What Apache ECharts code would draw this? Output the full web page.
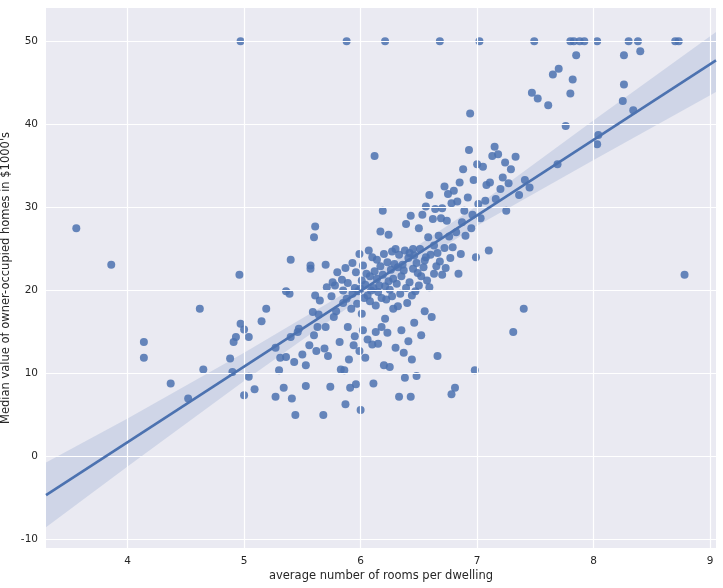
<!DOCTYPE html>
<html>
<head>
<meta charset="utf-8">
<script src="https://cdn.jsdelivr.net/npm/echarts@6/dist/echarts.min.js"></script>
<style>html,body{margin:0;padding:0;background:#fff}#chart{width:723px;height:588px}</style>
</head>
<body>
<div id="chart"></div>
<script>
// rooms per dwelling vs median value
var points = [
[3.56,27.5],[3.86,23.1],[4.14,13.8],[4.14,11.9],[4.37,8.8],[4.52,7.0],[4.62,17.8],[4.65,10.5],
[4.88,11.8],[4.90,10.2],[4.91,13.8],[4.93,14.4],[4.96,21.9],[4.97,50],[4.97,16.0],[5.00,7.4],
[5.00,15.3],[5.04,14.4],[5.04,9.6],[5.09,8.1],[5.15,16.3],[5.19,17.8],[5.27,7.2],[5.27,13.1],
[5.30,10.4],[5.31,11.9],[5.34,8.3],[5.36,12.0],[5.36,19.9],[5.39,19.6],[5.40,14.4],[5.40,23.7],
[5.41,7.0],[5.43,11.4],[5.44,5.0],[5.46,15.0],[5.47,15.4],[5.50,12.3],[5.53,11.0],[5.53,8.5],
[5.56,13.4],[5.57,23.0],[5.57,22.6],[5.59,17.4],[5.60,14.6],[5.60,26.4],[5.61,27.7],[5.61,19.4],
[5.62,12.7],[5.63,15.6],[5.64,17.1],[5.65,18.8],[5.68,5.0],[5.69,13.0],[5.70,23.1],[5.70,15.6],
[5.71,20.4],[5.72,12.1],[5.74,8.4],[5.75,19.3],[5.76,21.0],[5.77,16.8],[5.78,20.6],[5.79,17.5],
[5.80,22.2],[5.82,13.8],[5.83,10.5],[5.84,21.3],[5.85,20.0],[5.85,18.5],[5.86,10.4],[5.87,6.3],
[5.87,22.7],[5.88,50],[5.88,19.0],[5.89,15.6],[5.89,20.9],[5.90,11.7],[5.91,8.3],[5.92,17.8],
[5.93,19.6],[5.93,23.3],[5.94,13.4],[5.95,14.5],[5.95,20.3],[5.96,8.7],[5.96,22.2],[5.97,18.4],
[5.98,19.9],[5.99,24.4],[5.99,12.7],[6.00,20.2],[6.00,5.6],[6.01,21.2],[6.01,17.2],[6.02,15.2],
[6.02,23.0],[6.03,19.1],[6.04,11.9],[6.04,20.7],[6.05,22.0],[6.06,19.4],[6.06,14.1],[6.07,24.8],
[6.08,18.7],[6.08,21.7],[6.09,20.0],[6.10,13.5],[6.10,24.0],[6.11,20.3],[6.11,8.8],[6.12,36.2],
[6.12,22.3],[6.13,18.2],[6.13,15.0],[6.14,21.4],[6.14,23.7],[6.15,19.8],[6.15,13.6],[6.16,20.6],
[6.17,22.9],[6.17,27.1],[6.18,19.1],[6.18,15.6],[6.19,29.6],[6.19,21.9],[6.20,11.0],[6.20,24.4],
[6.21,50],[6.21,20.5],[6.21,16.6],[6.22,18.9],[6.23,23.4],[6.23,14.9],[6.24,21.1],[6.24,26.7],
[6.25,20.1],[6.25,10.8],[6.26,22.5],[6.27,19.3],[6.27,24.7],[6.28,17.8],[6.28,21.4],[6.29,23.2],
[6.30,13.1],[6.30,25.0],[6.31,20.8],[6.32,18.1],[6.32,22.8],[6.33,24.3],[6.33,7.2],[6.34,19.6],
[6.35,21.7],[6.35,15.2],[6.36,23.1],[6.37,22.4],[6.37,12.5],[6.38,9.5],[6.38,24.8],[6.39,20.3],
[6.39,28.0],[6.40,18.5],[6.41,23.9],[6.41,13.9],[6.42,21.0],[6.42,24.5],[6.43,29.0],[6.43,7.2],
[6.44,19.4],[6.44,11.7],[6.45,22.6],[6.45,25.0],[6.46,16.1],[6.46,24.2],[6.47,19.9],[6.48,23.3],
[6.48,9.7],[6.49,22.1],[6.50,27.5],[6.50,20.6],[6.51,25.0],[6.52,21.7],[6.52,14.6],[6.53,29.1],
[6.54,22.8],[6.55,23.6],[6.55,17.5],[6.56,24.0],[6.56,30.1],[6.57,21.2],[6.58,26.4],[6.59,20.4],
[6.59,31.5],[6.60,24.3],[6.61,16.8],[6.62,28.6],[6.63,22.0],[6.63,25.4],[6.64,29.8],[6.65,22.9],
[6.66,24.5],[6.66,12.1],[6.67,26.6],[6.68,50],[6.68,23.5],[6.69,28.7],[6.70,21.9],[6.70,29.9],
[6.72,25.1],[6.72,32.5],[6.73,22.7],[6.74,28.4],[6.75,31.6],[6.76,26.5],[6.77,23.9],[6.78,7.5],
[6.78,30.5],[6.79,25.2],[6.80,32.0],[6.81,8.3],[6.82,27.0],[6.83,30.7],[6.84,22.0],[6.85,33.0],
[6.86,24.4],[6.87,28.2],[6.88,34.6],[6.89,29.6],[6.90,26.6],[6.92,31.2],[6.93,36.9],[6.94,41.3],
[6.95,27.5],[6.96,29.1],[6.97,33.3],[6.98,10.4],[6.99,24.0],[7.00,35.2],[7.01,30.4],[7.02,50],
[7.03,28.7],[7.05,34.9],[7.07,30.8],[7.08,32.7],[7.10,24.8],[7.11,33.0],[7.13,36.2],[7.15,37.3],
[7.16,31.0],[7.18,36.4],[7.20,32.2],[7.22,33.6],[7.24,35.4],[7.25,29.6],[7.27,32.9],[7.29,34.6],
[7.31,15.0],[7.33,36.1],[7.36,31.5],[7.40,17.8],[7.41,33.3],[7.45,32.4],[7.47,43.8],[7.49,50],
[7.52,43.1],[7.61,42.3],[7.65,46.0],[7.69,35.2],[7.70,46.7],[7.76,39.8],[7.80,50],[7.80,43.7],
[7.82,45.4],[7.83,50],[7.85,48.3],[7.88,50],[7.92,50],[8.03,50],[8.03,37.6],[8.04,38.7],
[8.25,42.8],[8.26,48.3],[8.26,44.8],[8.30,50],[8.34,41.7],[8.38,50],[8.40,48.8],[8.70,50],
[8.73,50],[8.78,21.9]
];
var xTicks = [4, 5, 6, 7, 8, 9];
var yTicks = [-10, 0, 10, 20, 30, 40, 50];
var bandX = [3.3, 4, 5, 6, 7, 8, 9.05];
var bandLow = [-8.5, -1.2, 9.1, 19.0, 27.8, 35.7, 43.9];
var bandHigh = [-0.7, 4.6, 12.5, 20.8, 30.2, 40.5, 51.1];
var fitX = [3.3, 9.05];
var fitY = [-4.63, 47.70];

var chart = echarts.init(document.getElementById('chart'));
var bandPoly = bandX.map(function (x, i) { return [x, bandHigh[i]]; })
    .concat(bandX.slice().reverse().map(function (x, i) { return [x, bandLow[bandX.length - 1 - i]]; }));
var gridColor = '#fff';
chart.setOption({
    animation: false,
    backgroundColor: '#fff',
    grid: {left: 46, right: 7, top: 8, bottom: 40, backgroundColor: '#EAEAF2', show: true, borderWidth: 0,
        outerBoundsMode: 'none', containLabel: false},
    xAxis: {
        type: 'value', min: 3.3, max: 9.05,
        name: 'average number of rooms per dwelling', nameLocation: 'middle', nameGap: 22,
        nameMoveOverlap: false,
        nameTextStyle: {color: '#262626', fontFamily: 'DejaVu Sans', fontSize: 11.5},
        axisLine: {show: false}, axisTick: {show: false},
        axisLabel: {color: '#262626', fontFamily: 'DejaVu Sans', fontSize: 10.5, customValues: xTicks},
        splitLine: {show: false}
    },
    yAxis: {
        type: 'value', min: -11, max: 54,
        name: "Median value of owner-occupied homes in $1000's", nameLocation: 'middle', nameGap: 34,
        nameMoveOverlap: false,
        nameTextStyle: {color: '#262626', fontFamily: 'DejaVu Sans', fontSize: 11.5},
        axisLine: {show: false}, axisTick: {show: false},
        axisLabel: {color: '#262626', fontFamily: 'DejaVu Sans', fontSize: 10.5, customValues: yTicks},
        splitLine: {show: false}
    },
    series: [
        {type: 'scatter', data: [], silent: true,
         markLine: {silent: true, symbol: 'none', label: {show: false}, lineStyle: {color: gridColor, width: 1.2, type: 'solid'},
            data: yTicks.map(function (v) { return {yAxis: v}; }).concat(xTicks.map(function (v) { return {xAxis: v}; }))}},
        {type: 'custom', z: 3, silent: true, data: [0],
         renderItem: function (params, api) {
             return {type: 'polygon', shape: {points: bandPoly.map(function (p) { return api.coord(p); })},
                 style: {fill: 'rgba(76,114,176,0.17)'}};
         }},
        {type: 'scatter', data: points, symbolSize: 8, z: 4,
         itemStyle: {color: '#4C72B0', opacity: 0.85}},
        {type: 'line', data: fitX.map(function (x, i) { return [x, fitY[i]]; }), symbol: 'none', z: 5,
         lineStyle: {color: '#4C72B0', width: 2.6}}
    ]
});
</script>
</body>
</html>
